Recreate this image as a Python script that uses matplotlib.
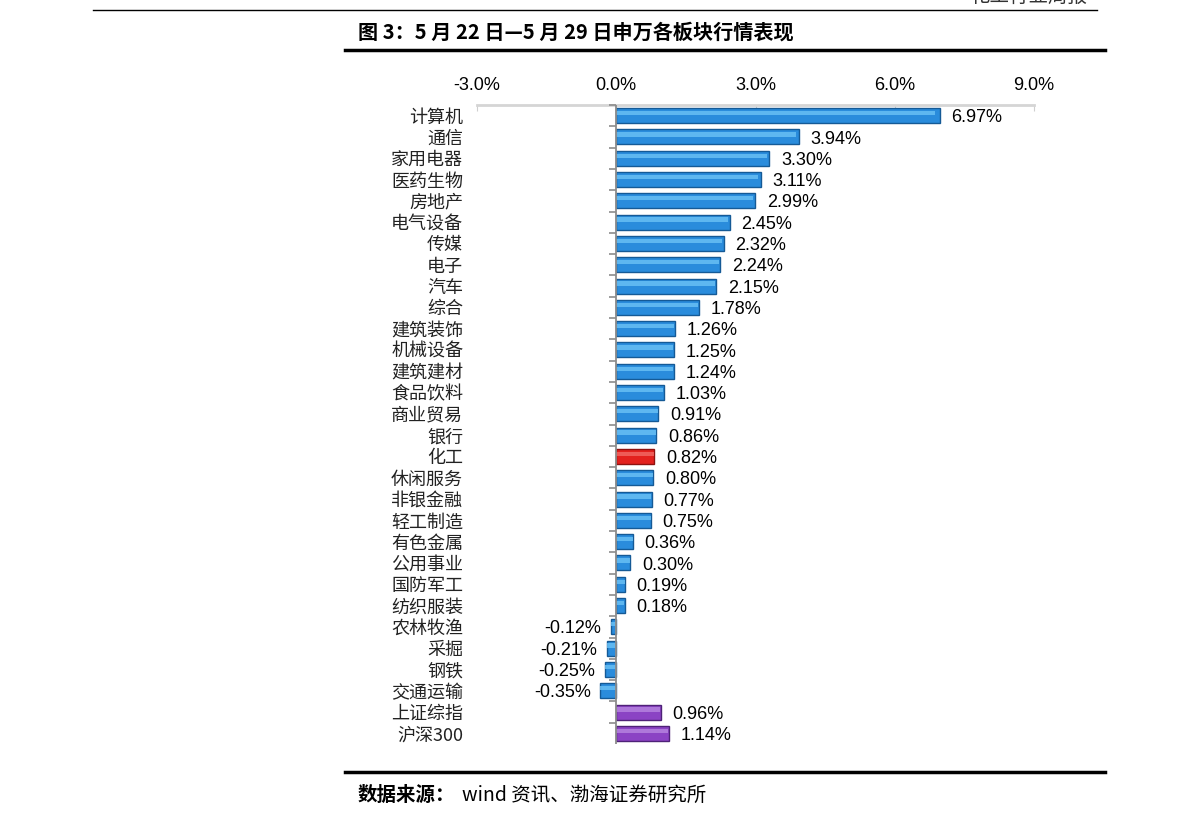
import matplotlib.pyplot as plt
from matplotlib.lines import Line2D

plt.rcParams['font.family'] = ['Noto Sans CJK SC', 'DejaVu Sans']

cats = ["计算机", "通信", "家用电器", "医药生物", "房地产", "电气设备", "传媒", "电子",
        "汽车", "综合", "建筑装饰", "机械设备", "建筑建材", "食品饮料", "商业贸易", "银行",
        "化工", "休闲服务", "非银金融", "轻工制造", "有色金属", "公用事业", "国防军工",
        "纺织服装", "农林牧渔", "采掘", "钢铁", "交通运输", "上证综指", "沪深300"]
vals = [6.97, 3.94, 3.30, 3.11, 2.99, 2.45, 2.32, 2.24, 2.15, 1.78, 1.26, 1.25, 1.24,
        1.03, 0.91, 0.86, 0.82, 0.80, 0.77, 0.75, 0.36, 0.30, 0.19, 0.18, -0.12, -0.21,
        -0.25, -0.35, 0.96, 1.14]
xticks = [-3, 0, 3, 6, 9]
xticklabels = ["-3.0%", "0.0%", "3.0%", "6.0%", "9.0%"]

W, H = 1191, 825
fig = plt.figure(figsize=(W / 100, H / 100), dpi=100)

def fx(px):
    return px / W

def fy(py):
    return 1 - py / H

ax = fig.add_axes([fx(477), fy(744), fx(1034) - fx(477), fy(105) - fy(744)])

colors = []
dark = []
light = []
for c in cats:
    if c == "化工":
        colors.append("#E3211E"); dark.append("#8E1210"); light.append("#F26A66")
    elif c in ("上证综指", "沪深300"):
        colors.append("#8B43C4"); dark.append("#4E2277"); light.append("#B886E0")
    else:
        colors.append("#2A8CDC"); dark.append("#155A96"); light.append("#6CC3F6")

ypos = list(range(len(cats)))
ax.barh(ypos, vals, height=0.7, color=colors, edgecolor=dark, linewidth=1.0, zorder=3)
# light highlight stripe for the glossy look
ax.barh([y - 0.12 for y in ypos], [v * 0.985 for v in vals], height=0.2,
        color=light, linewidth=0, zorder=4, alpha=0.8)

for y, v in zip(ypos, vals):
    if v >= 0:
        ax.text(v + 0.25, y + 0.1, f"{v:.2f}%", ha="left", va="center",
                fontsize=13, family="Liberation Sans", color="black")
    else:
        ax.text(v - 0.2, y + 0.1, f"{v:.2f}%", ha="right", va="center",
                fontsize=13, family="Liberation Sans", color="black")

ax.set_xlim(-3, 9)
ax.set_ylim(len(cats) - 0.5, -0.5)

ax.xaxis.tick_top()
ax.set_xticks(xticks)
ax.set_xticklabels(xticklabels, fontsize=13, family="Liberation Sans")
ax.tick_params(axis="x", direction="in", length=4, color="#CFCFCF", pad=8)

ax.set_yticks(ypos)
ax.set_yticklabels(cats, fontsize=13, color="#222222")
ax.tick_params(axis="y", length=0, pad=10)

for s in ["left", "right", "bottom"]:
    ax.spines[s].set_visible(False)
ax.spines["top"].set_color("#D5D5D5")
ax.spines["top"].set_linewidth(2)

# zero line with small ticks
ax.axvline(0, color="#8C8C8C", linewidth=1.3, zorder=5)
bounds = [y - 0.5 for y in ypos]
ax.plot([0] * len(bounds), bounds, linestyle="none", marker=0, markersize=5,
        color="#8C8C8C", markeredgewidth=1.2, zorder=5, clip_on=False)

# page decorations
fig.add_artist(Line2D([fx(93), fx(1097)], [fy(10), fy(10)], color="black", linewidth=1.0))
fig.text(fx(1087), fy(-4), "化工行业周报", ha="right", va="center", fontsize=14, color="#333333")
fig.add_artist(Line2D([fx(345), fx(1105)], [fy(50), fy(50)], color="black", linewidth=2.5))
fig.text(fx(358), fy(32), "图 3：5 月 22 日—5 月 29 日申万各板块行情表现", ha="left", va="center",
         fontsize=14.5, fontweight="bold")
fig.add_artist(Line2D([fx(345), fx(1105)], [fy(772), fy(772)], color="black", linewidth=2.5))
fig.text(fx(358), fy(795), "数据来源：", ha="left", va="center", fontsize=14, fontweight="bold")
fig.text(fx(462), fy(795), "wind 资讯、渤海证券研究所", ha="left", va="center", fontsize=14)

fig.savefig("out.png", dpi=100)
